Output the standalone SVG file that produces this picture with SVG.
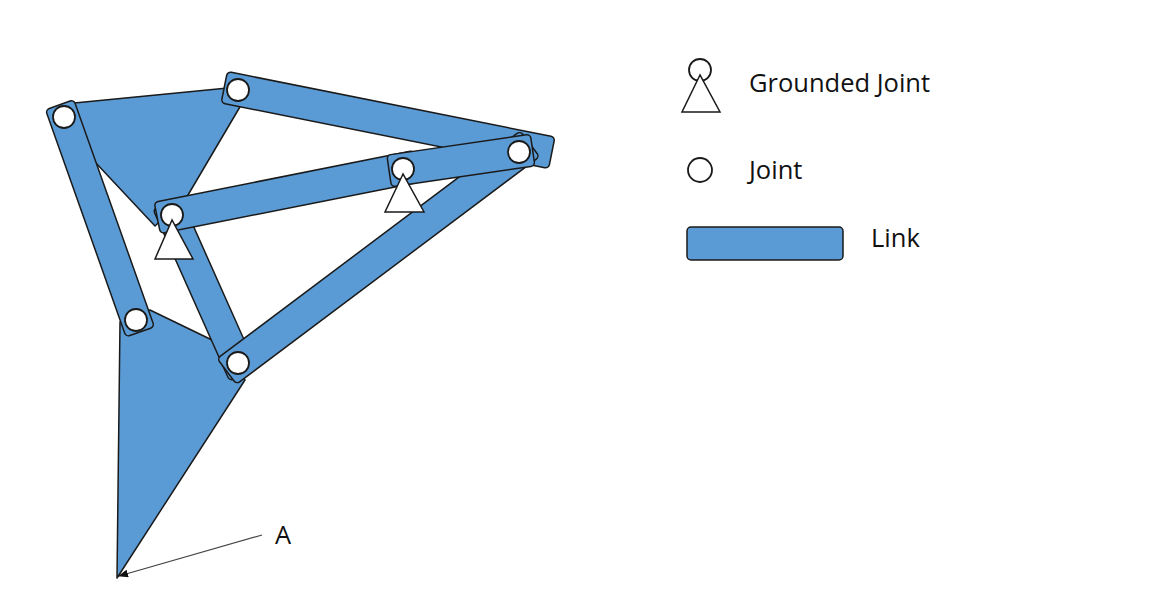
<svg xmlns="http://www.w3.org/2000/svg" width="1168" height="598" viewBox="0 0 1168 598">
<style>
.lk{fill:#5b9bd5;stroke:#1a1a1a;stroke-width:1.5;stroke-linejoin:round}
.jt{fill:#fff;stroke:#1a1a1a;stroke-width:1.8}
.gt{fill:#fff;stroke:#1a1a1a;stroke-width:1.5}
.tx{font-family:"Open Sans",sans-serif;font-size:25.5px;fill:#111}
</style>
<defs>
<marker id="ah" markerWidth="10" markerHeight="8" refX="9" refY="4" orient="auto" markerUnits="userSpaceOnUse"><path d="M0,0 L10,4 L0,8 Z" fill="#111"/></marker>
</defs>
<rect width="1168" height="598" fill="#fff"/>
<g id="links">
<polygon id="tri-top" class="lk" points="64,104 238,87 244,100 188,195 155,226 95,162"/>
<polygon id="tri-bottom" class="lk" points="120,322 150,310 212,340 245,380 117,578"/>
<rect id="link1" class="lk" x="-13" y="-15" width="241" height="30" rx="4" transform="translate(64,117) rotate(70.47)"/>
<rect id="link2" class="lk" x="-14" y="-16" width="334" height="32" rx="4" transform="translate(238,90) rotate(11.31)"/>
<rect id="link4" class="lk" x="-13" y="-15" width="188" height="30" rx="4" transform="translate(172,215) rotate(65.96)"/>
<rect id="link5" class="lk" x="-14" y="-16" width="379" height="32" rx="4" transform="translate(238,363) rotate(-36.9)"/>
<rect id="link3a" class="lk" x="-15" y="-16" width="265" height="32" rx="4" transform="translate(172,215) rotate(-11.26)"/>
<rect id="link3b" class="lk" x="-14" y="-16" width="145" height="32" rx="4" transform="translate(403,169) rotate(-8.34)"/>
</g>
<g id="joints">
<circle class="jt" cx="64" cy="117" r="11"/>
<circle class="jt" cx="238" cy="90" r="11"/>
<circle class="jt" cx="519" cy="152" r="11"/>
<circle class="jt" cx="136" cy="320" r="11"/>
<circle class="jt" cx="238" cy="363" r="11"/>
<circle class="jt" cx="403" cy="169" r="11"/>
<circle class="jt" cx="172" cy="215" r="11"/>
<polygon class="gt" points="172,220 155,259 193,259"/>
<polygon class="gt" points="403,174 385,212 424,212"/>
</g>
<g id="connectors">
<line x1="262" y1="535" x2="119" y2="576" stroke="#444" stroke-width="1.2" marker-end="url(#ah)"/>
</g>
<text class="tx" x="275" y="544">A</text>
<g id="legend">
<circle class="jt" cx="700" cy="70" r="11"/>
<polygon class="gt" points="700,75 682,112 720,112"/>
<text class="tx" x="749" y="92">Grounded Joint</text>
<circle class="jt" cx="700" cy="170" r="12"/>
<text class="tx" x="749" y="179">Joint</text>
<rect class="lk" x="687" y="227" width="156" height="33" rx="4"/>
<text class="tx" x="871" y="247">Link</text>
</g>
</svg>
